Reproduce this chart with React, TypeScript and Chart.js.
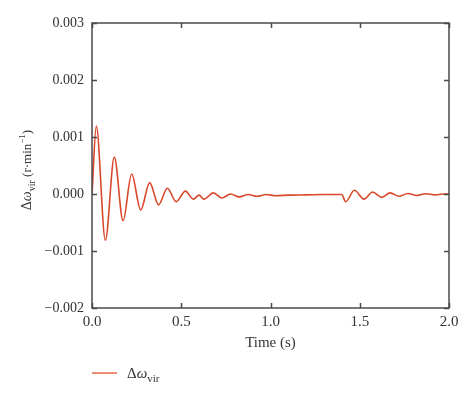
import React, { useEffect, useRef } from "react";
import { Chart, registerables } from "chart.js";

Chart.register(...registerables);

// Time (s) at the extrema / key points of the trace
const times: number[] = [
  0, 0.024, 0.075, 0.125, 0.174, 0.222, 0.273, 0.323, 0.373, 0.422, 0.472, 0.523,
  0.568, 0.6, 0.627, 0.68, 0.727, 0.777, 0.825, 0.875, 0.925, 0.975, 1.03, 1.1,
  1.2, 1.3, 1.399, 1.421, 1.47, 1.524, 1.572, 1.623, 1.67, 1.72, 1.77, 1.82, 1.87,
  1.92, 1.97, 2.0,
];
// Δω_vir values (r·min^-1)
const omegaVir: number[] = [
  0, 0.00119, -0.00081, 0.00065, -0.00047, 0.00035, -0.00028, 0.0002, -0.00019,
  0.0001, -0.000135, 0.00005, -0.00009, -0.00002, -0.00009, 0.00002, -0.00007, 0.0,
  -0.00005, -0.00001, -0.00004, -0.00001, -0.00003, -0.00002, -0.000015, -0.00001,
  -0.00001, -0.000135, 0.000065, -0.00009, 0.000035, -0.00006, 0.00002, -0.00004,
  0.00001, -0.000025, 0.000005, -0.000015, 0.0, 0.0,
];
const xTickValues: number[] = [0, 0.5, 1.0, 1.5, 2.0];
const yTickValues: number[] = [-0.002, -0.001, 0, 0.001, 0.002, 0.003];

const SERIF = "'Liberation Serif', 'Times New Roman', serif";
const TEXT = "#333333";
const LINE = "#D9482A";
const FRAME = "#4a4a4a";

const fmtY = (v: number) => {
  const s = Math.abs(v).toFixed(3);
  return v < -1e-9 ? "\u2212" + s : s;
};

const decorPlugin = {
  id: "decor",
  afterDraw(chart: any) {
    const ctx = chart.ctx as CanvasRenderingContext2D;
    const { left, right, top, bottom } = chart.chartArea;
    const xs = chart.scales.x;
    const ys = chart.scales.y;
    ctx.save();
    // frame
    ctx.strokeStyle = FRAME;
    ctx.lineWidth = 1.5;
    ctx.strokeRect(left, top, right - left, bottom - top);
    // inward ticks on all sides
    const L = 5;
    ctx.beginPath();
    xTickValues.forEach((v) => {
      const px = Math.round(xs.getPixelForValue(v)) + 0.5;
      ctx.moveTo(px, bottom);
      ctx.lineTo(px, bottom - L);
      ctx.moveTo(px, top);
      ctx.lineTo(px, top + L);
    });
    yTickValues.forEach((v) => {
      const py = Math.round(ys.getPixelForValue(v)) + 0.5;
      ctx.moveTo(left, py);
      ctx.lineTo(left + L, py);
      ctx.moveTo(right, py);
      ctx.lineTo(right - L, py);
    });
    ctx.stroke();

    ctx.fillStyle = TEXT;
    // x title
    ctx.font = `15px ${SERIF}`;
    ctx.textAlign = "center";
    ctx.textBaseline = "middle";
    ctx.fillText("Time (s)", (left + right) / 2, 343);

    // y title (rotated, with sub/superscripts)
    const pieces: { t: string; f: string; dy: number }[] = [
      { t: "\u0394", f: `14px ${SERIF}`, dy: 0 },
      { t: "\u03C9", f: `italic 14px ${SERIF}`, dy: 0 },
      { t: "vir", f: `10px ${SERIF}`, dy: 4 },
      { t: " (r\u00B7min", f: `13px ${SERIF}`, dy: 0 },
      { t: "\u22121", f: `9px ${SERIF}`, dy: -6 },
      { t: ")", f: `13px ${SERIF}`, dy: 0 },
    ];
    let total = 0;
    const widths = pieces.map((p) => {
      ctx.font = p.f;
      const w = ctx.measureText(p.t).width;
      total += w;
      return w;
    });
    ctx.save();
    ctx.translate(27, 170);
    ctx.rotate(-Math.PI / 2);
    ctx.textAlign = "left";
    ctx.textBaseline = "alphabetic";
    let cx = -total / 2;
    pieces.forEach((p, i) => {
      ctx.font = p.f;
      ctx.fillText(p.t, cx, 4 + p.dy);
      cx += widths[i];
    });
    ctx.restore();

    // legend
    ctx.strokeStyle = "#E8684A";
    ctx.lineWidth = 1.5;
    ctx.beginPath();
    ctx.moveTo(92, 373);
    ctx.lineTo(117, 373);
    ctx.stroke();
    ctx.textAlign = "left";
    ctx.textBaseline = "alphabetic";
    ctx.font = `15px ${SERIF}`;
    let lx = 127;
    ctx.fillText("\u0394", lx, 378);
    lx += ctx.measureText("\u0394").width;
    ctx.font = `italic 15px ${SERIF}`;
    ctx.fillText("\u03C9", lx, 378);
    lx += ctx.measureText("\u03C9").width;
    ctx.font = `11px ${SERIF}`;
    ctx.fillText("vir", lx, 382);
    ctx.restore();
  },
};

export default function App() {
  const ref = useRef<HTMLCanvasElement | null>(null);
  useEffect(() => {
    document.body.style.margin = "0";
    const canvas = ref.current;
    if (!canvas) return;
    const chart = new Chart(canvas, {
      type: "line",
      data: {
        datasets: [
          {
            label: "\u0394\u03C9vir",
            data: times.map((t, i) => ({ x: t, y: omegaVir[i] })),
            borderColor: LINE,
            borderWidth: 1.6,
            pointRadius: 0,
            cubicInterpolationMode: "monotone",
            fill: false,
          },
        ],
      },
      options: {
        responsive: false,
        animation: false,
        layout: { padding: { top: 23, right: 25, left: 0, bottom: 0 } },
        plugins: { legend: { display: false }, tooltip: { enabled: false } },
        scales: {
          x: {
            type: "linear",
            min: 0,
            max: 2,
            grid: { display: false, drawTicks: false },
            border: { display: false },
            ticks: {
              stepSize: 0.5,
              padding: 5,
              color: TEXT,
              font: { family: SERIF, size: 15 },
              maxRotation: 0,
              callback: (v: any) => Number(v).toFixed(1),
            },
            afterFit: (s: any) => {
              s.height = 91;
            },
          },
          y: {
            type: "linear",
            min: -0.002,
            max: 0.003,
            grid: { display: false, drawTicks: false },
            border: { display: false },
            ticks: {
              stepSize: 0.001,
              padding: 8,
              color: TEXT,
              font: { family: SERIF, size: 14 },
              callback: (v: any) => fmtY(Number(v)),
            },
            afterFit: (s: any) => {
              s.width = 92;
            },
          },
        },
      },
      plugins: [decorPlugin],
    });
    return () => chart.destroy();
  }, []);
  return (
    <div style={{ position: "absolute", left: 0, top: 0, width: 474, height: 399, background: "#fff" }}>
      <canvas ref={ref} width={474} height={399} />
    </div>
  );
}
